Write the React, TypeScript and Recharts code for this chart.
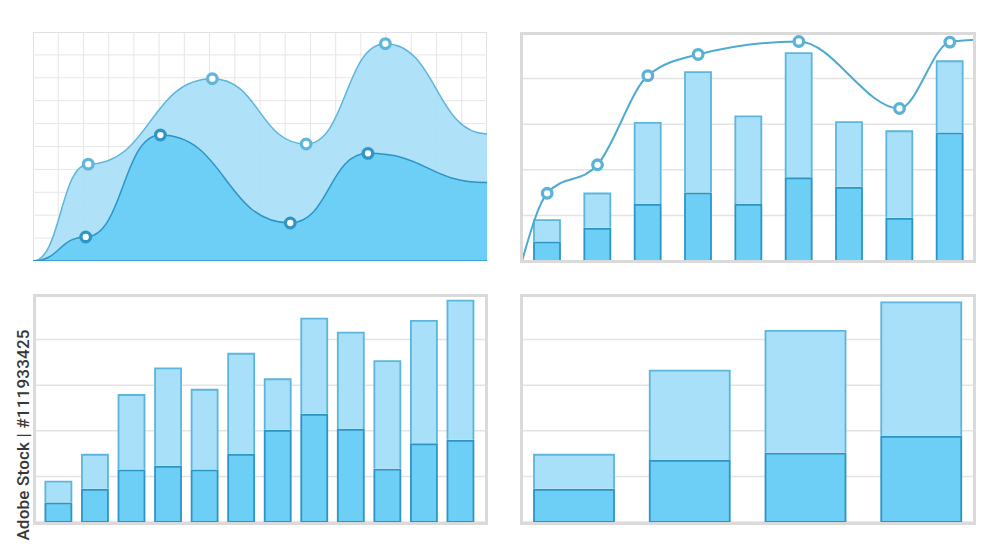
import React from 'react';
import {
  ComposedChart,
  Area,
  BarChart,
  Bar,
  LineChart,
  Line,
  XAxis,
  YAxis,
  CartesianGrid,
  ReferenceLine,
} from 'recharts';

const LIGHT = '#a8e0f9';
const LIGHT_EDGE = '#5cb5da';
const DARK = '#6dcff6';
const DARK_EDGE = '#2c95c6';
const LINE_COLOR = '#4eaad2';
const GRID = '#e3e3e3';
const BORDER = '#dadada';

// top-left panel, measured in grid cells (18 x 10)
const gridCols = [0, 1, 2, 3, 4, 5, 6, 7, 8, 9, 10, 11, 12, 13, 14, 15, 16, 17, 18];
const gridRows = [0, 1, 2, 3, 4, 5, 6, 7, 8, 9, 10];
const backX = [0, 2.19, 7.11, 10.83, 13.97, 18];
const backY = [0, 4.23, 7.96, 5.11, 9.49, 5.55];
const frontX = [0, 2.09, 5.05, 10.2, 13.28, 18];
const frontY = [0, 1.05, 5.5, 1.66, 4.7, 3.43];

// shared value axis for the bar panels
const valueTicks = [0, 20, 40, 60, 80, 100];

// top-right panel
const mixCats = ['1', '2', '3', '4', '5', '6', '7', '8', '9'];
const mixDark = [8.2, 14.1, 24.6, 29.7, 24.6, 36.3, 32.1, 18.5, 56.0];
const mixTop = [17.9, 29.6, 60.6, 82.8, 63.4, 91.2, 60.9, 56.9, 87.6];
const trendX = [0, 0.5, 1.5, 2.5, 3.5, 5.5, 7.5, 8.5, 9];
const trendY = [0, 29.7, 42.2, 81.3, 90.6, 96.3, 66.9, 96.0, 97];

// bottom-left panel
const monthCats = ['1', '2', '3', '4', '5', '6', '7', '8', '9', '10', '11', '12'];
const monthDark = [8.2, 14.1, 22.6, 24.2, 22.6, 29.5, 40.0, 47.0, 40.4, 23.0, 34.1, 35.6];
const monthTop = [17.7, 29.5, 55.7, 67.4, 58.0, 73.8, 62.6, 89.2, 83.1, 70.6, 88.2, 97.1];

// bottom-right panel
const quarterCats = ['Q1', 'Q2', 'Q3', 'Q4'];
const quarterDark = [14.1, 26.8, 30.0, 37.4];
const quarterTop = [29.5, 66.4, 83.8, 96.3];

const areaTable = (() => {
  const rows = new Map<number, any>();
  backX.forEach((x, i) => rows.set(x, { ...(rows.get(x) || { x }), back: backY[i] }));
  frontX.forEach((x, i) => rows.set(x, { ...(rows.get(x) || { x }), front: frontY[i] }));
  return Array.from(rows.values()).sort((a, b) => a.x - b.x);
})();

const trendTable = trendX.map((x, i) => ({ x, v: trendY[i] }));

const stackTable = (cats: string[], dark: number[], top: number[]) =>
  cats.map((name, i) => ({ name, dark: dark[i], light: +(top[i] - dark[i]).toFixed(1) }));

const ringDot = (color: string, key: string, xs: number[]) => (props: any) => {
  const { cx, cy, index, payload } = props;
  const k = `${key}-${index}`;
  if (cx == null || cy == null || !payload || payload[key] == null) return <g key={k} />;
  if (payload.x === xs[0] || payload.x === xs[xs.length - 1]) return <g key={k} />;
  return <circle key={k} cx={cx} cy={cy} r={4.8} fill="#fff" stroke={color} strokeWidth={3.3} />;
};

const LightBar = (props: any) => {
  const { x, y, width, height } = props;
  if (!height || height <= 0) return <g />;
  return (
    <g>
      <rect x={x} y={y} width={width} height={Math.max(0, height - 1)} fill={LIGHT} />
      <path
        d={`M${x},${y + height - 1} V${y} H${x + width} V${y + height - 1}`}
        fill="none"
        stroke={LIGHT_EDGE}
        strokeWidth={1.8}
      />
    </g>
  );
};

const Panel: React.FC<{ left: number; top: number; width: number; height: number; children: React.ReactNode }> = ({
  left,
  top,
  width,
  height,
  children,
}) => (
  <div style={{ position: 'absolute', left, top, width, height, overflow: 'hidden' }}>
    {children}
    <div
      style={{
        position: 'absolute',
        inset: 0,
        border: `3px solid ${BORDER}`,
        boxSizing: 'border-box',
      }}
    />
  </div>
);

interface StackProps {
  cats: string[];
  dark: number[];
  top: number[];
  width: number;
  height: number;
  barSize: number;
  padding?: { left: number; right: number };
}

const StackedBars: React.FC<StackProps> = ({ cats, dark, top, width, height, barSize, padding }) => (
  <BarChart width={width} height={height} data={stackTable(cats, dark, top)} margin={{ top: 0, right: 0, bottom: 0, left: 0 }}>
    <CartesianGrid vertical={false} stroke={GRID} strokeWidth={1.5} />
    <XAxis dataKey="name" hide padding={padding} />
    <YAxis hide domain={[0, 100]} ticks={valueTicks} interval={0} />
    <Bar dataKey="dark" stackId="s" barSize={barSize} fill={DARK} stroke={DARK_EDGE} strokeWidth={1.8} isAnimationActive={false} />
    <Bar dataKey="light" stackId="s" barSize={barSize} shape={LightBar} isAnimationActive={false} />
  </BarChart>
);

const App: React.FC = () => {
  return (
    <div
      style={{
        position: 'absolute',
        left: 0,
        top: 0,
        width: 1000,
        height: 556,
        background: '#fff',
        overflow: 'hidden',
        fontFamily: 'Roboto, sans-serif',
      }}
    >
      {/* top-left: overlapping areas on a square grid */}
      <div
        style={{
          position: 'absolute',
          left: 33,
          top: 31.5,
          width: 454,
          height: 229,
          border: '1px solid #dcdcdc',
          boxSizing: 'border-box',
        }}
      />
      <div style={{ position: 'absolute', left: 33, top: 31.5 }}>
        <ComposedChart width={454} height={229} data={areaTable} margin={{ top: 0, right: 0, bottom: 0, left: 0 }}>
          <CartesianGrid stroke="#e6e6e6" strokeWidth={1} />
          <XAxis type="number" dataKey="x" hide domain={[0, 18]} ticks={gridCols} interval={0} />
          <YAxis type="number" hide domain={[0, 10]} ticks={gridRows} interval={0} />
          <Area
            type="bumpX"
            dataKey="back"
            connectNulls
            fill={LIGHT}
            fillOpacity={0.92}
            stroke={LIGHT_EDGE}
            strokeWidth={1.5}
            dot={ringDot('#5fb6da', 'back', backX)}
            activeDot={false}
            isAnimationActive={false}
          />
          <Area
            type="bumpX"
            dataKey="front"
            connectNulls
            fill={DARK}
            fillOpacity={1}
            stroke={DARK_EDGE}
            strokeWidth={1.5}
            dot={ringDot('#2e95c7', 'front', frontX)}
            activeDot={false}
            isAnimationActive={false}
          />
          <ReferenceLine y={0} stroke={DARK_EDGE} strokeWidth={1.5} />
        </ComposedChart>
      </div>

      {/* top-right: stacked bars with trend line */}
      <Panel left={520} top={31.7} width={455.5} height={231.6}>
        <div style={{ position: 'absolute', left: 2, top: 1 }}>
          <StackedBars cats={mixCats} dark={mixDark} top={mixTop} width={453} height={228} barSize={26} />
        </div>
        <div style={{ position: 'absolute', left: 2, top: 1 }}>
          <LineChart width={453} height={228} data={trendTable} margin={{ top: 0, right: 0, bottom: 0, left: 0 }}>
            <XAxis type="number" dataKey="x" hide domain={[0, 9]} />
            <YAxis type="number" hide domain={[0, 100]} ticks={valueTicks} />
            <Line
              type="monotone"
              dataKey="v"
              stroke={LINE_COLOR}
              strokeWidth={2}
              dot={ringDot('#5ab3d7', 'v', trendX)}
              activeDot={false}
              isAnimationActive={false}
            />
          </LineChart>
        </div>
      </Panel>

      {/* bottom-left: twelve stacked bars */}
      <Panel left={33} top={294} width={455} height={231}>
        <div style={{ position: 'absolute', left: 3, top: 0 }}>
          <StackedBars
            cats={monthCats}
            dark={monthDark}
            top={monthTop}
            width={449}
            height={228}
            barSize={26}
            padding={{ left: 4.4, right: 6 }}
          />
        </div>
      </Panel>

      {/* bottom-right: four wide stacked bars */}
      <Panel left={520} top={294} width={455.5} height={231}>
        <div style={{ position: 'absolute', left: -3.7, top: 0 }}>
          <StackedBars cats={quarterCats} dark={quarterDark} top={quarterTop} width={463} height={228} barSize={80} />
        </div>
      </Panel>

      <div
        style={{
          position: 'absolute',
          left: 22.5,
          top: 435,
          transform: 'translate(-50%, -50%) rotate(-90deg)',
          whiteSpace: 'nowrap',
          fontSize: 17,
          fontWeight: 500,
          color: '#383838',
          letterSpacing: 0.2,
        }}
      >
        Adobe Stock | #111933425
      </div>
    </div>
  );
};

export default App;
